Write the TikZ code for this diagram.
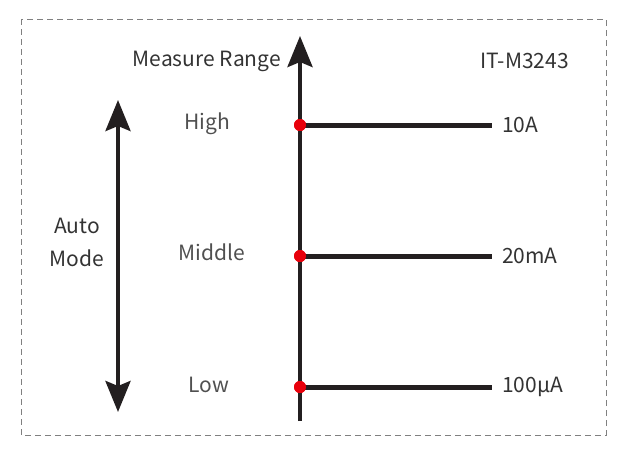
\documentclass[tikz,border=0pt]{standalone}
\usepackage{fontspec}
\usepackage{tikz}
\usepackage{xcolor}
\usetikzlibrary{arrows.meta, positioning}
\newfontfamily\labelfont{Noto Sans CJK SC}
\definecolor{axisblack}{HTML}{231F20}
\definecolor{dotred}{HTML}{E8000B}
\definecolor{textgray}{HTML}{333333}
\definecolor{levelgray}{HTML}{505050}

\begin{document}
\begin{tikzpicture}[x=1pt, y=-1pt,
    every node/.style={font=\labelfont\fontsize{21}{24}\selectfont, text=textgray, inner sep=0pt},
    level/.style={text=levelgray},
    rangeline/.style={line width=5pt, axisblack},
    bigarrow/.style={line width=4pt, axisblack, -{Stealth[length=31pt, width=25pt, inset=5pt]}},
    dot/.style={circle, fill=dotred, minimum size=12pt, inner sep=0pt}]
    \useasboundingbox (0,0) rectangle (620,453);
    % Dashed frame
    \draw[dashed, gray, line width=1pt, dash pattern=on 6pt off 4pt] (21,19) rectangle (606,435);

    % Main axis
    \coordinate (axisbottom) at (300,421);
    \coordinate (axistop) at (300,36);
    \draw[bigarrow] (axisbottom) -- (axistop);

    % Range points
    \node[dot] (high) at (300,125) {};
    \node[dot] (middle) at (300,256) {};
    \node[dot] (low) at (300,387) {};
    \node[anchor=west] (high val) at (502,125) {10A};
    \node[anchor=west] (middle val) at (502,256) {20mA};
    \node[anchor=west] (low val) at (502,387) {100µA};
    \draw[rangeline] (high.center) -- (high val.west -| 492,0);
    \draw[rangeline] (middle.center) -- (middle val.west -| 492,0);
    \draw[rangeline] (low.center) -- (low val.west -| 492,0);
    \node[dot] at (high) {};
    \node[dot] at (middle) {};
    \node[dot] at (low) {};

    % Level labels
    \node[level] (high lbl) at (207,124) {High};
    \node[level] (middle lbl) at (212,252) {Middle};
    \node[level] (low lbl) at (209,385) {Low};

    % Titles
    \node[anchor=east] (range title) at (281,61) {Measure Range};
    \node[anchor=east] (model) at (569,61) {IT-M3243};

    % Auto mode arrow
    \node[align=center, font=\labelfont\fontsize{21}{33}\selectfont] (auto) at (77,242) {Auto\\Mode};
    \coordinate (autotop) at (118,100);
    \coordinate (autobottom) at (118,412);
    \draw[line width=4pt, axisblack, {Stealth[length=31pt, width=25pt, inset=5pt]}-{Stealth[length=31pt, width=25pt, inset=5pt]}] (autotop) -- (autobottom);
\end{tikzpicture}
\end{document}
